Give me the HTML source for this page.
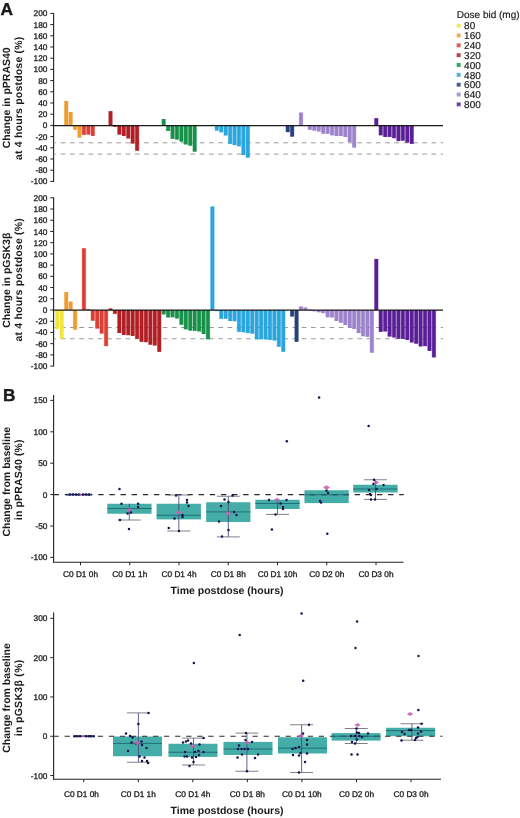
<!DOCTYPE html><html><head><meta charset="utf-8"><title>Figure</title><style>html,body{margin:0;padding:0;background:#fff;width:520px;height:818px;overflow:hidden}svg{display:block}</style></head><body><svg width="520" height="818" viewBox="0 0 520 818">
<style>
text{font-family:'Liberation Sans', Arial, Helvetica, sans-serif;fill:#1a1a1a;text-rendering:geometricPrecision}
.tk{font-size:8.3px;stroke:#1a1a1a;stroke-width:0.3px}
.ttl{font-size:10.5px;font-weight:bold}
.pl{font-size:17.3px;font-weight:bold;stroke:#1a1a1a;stroke-width:0.4px}
.lg{font-size:10px;fill:#222;stroke:#222;stroke-width:0.2px}
.lgl{font-size:10px;fill:#222;stroke:#222;stroke-width:0.2px}
.xl{font-size:8.3px;stroke:#1a1a1a;stroke-width:0.3px}
</style>
<rect width="520" height="818" fill="#fff"/>
<text x="0.6" y="14.8" class="pl">A</text>
<line x1="53.6" y1="12.9" x2="53.6" y2="181.9" stroke="#222" stroke-width="1.1"/>
<line x1="50.3" y1="181.4" x2="53.6" y2="181.4" stroke="#222" stroke-width="1"/>
<text x="47.4" y="184.45" text-anchor="end" class="tk">-100</text>
<line x1="50.3" y1="170.2" x2="53.6" y2="170.2" stroke="#222" stroke-width="1"/>
<text x="47.4" y="173.25" text-anchor="end" class="tk">-80</text>
<line x1="50.3" y1="159" x2="53.6" y2="159" stroke="#222" stroke-width="1"/>
<text x="47.4" y="162.05" text-anchor="end" class="tk">-60</text>
<line x1="50.3" y1="147.8" x2="53.6" y2="147.8" stroke="#222" stroke-width="1"/>
<text x="47.4" y="150.85" text-anchor="end" class="tk">-40</text>
<line x1="50.3" y1="136.6" x2="53.6" y2="136.6" stroke="#222" stroke-width="1"/>
<text x="47.4" y="139.65" text-anchor="end" class="tk">-20</text>
<line x1="50.3" y1="125.4" x2="53.6" y2="125.4" stroke="#222" stroke-width="1"/>
<text x="47.4" y="128.45" text-anchor="end" class="tk">0</text>
<line x1="50.3" y1="114.2" x2="53.6" y2="114.2" stroke="#222" stroke-width="1"/>
<text x="47.4" y="117.25" text-anchor="end" class="tk">20</text>
<line x1="50.3" y1="103" x2="53.6" y2="103" stroke="#222" stroke-width="1"/>
<text x="47.4" y="106.05" text-anchor="end" class="tk">40</text>
<line x1="50.3" y1="91.8" x2="53.6" y2="91.8" stroke="#222" stroke-width="1"/>
<text x="47.4" y="94.85" text-anchor="end" class="tk">60</text>
<line x1="50.3" y1="80.6" x2="53.6" y2="80.6" stroke="#222" stroke-width="1"/>
<text x="47.4" y="83.65" text-anchor="end" class="tk">80</text>
<line x1="50.3" y1="69.4" x2="53.6" y2="69.4" stroke="#222" stroke-width="1"/>
<text x="47.4" y="72.45" text-anchor="end" class="tk">100</text>
<line x1="50.3" y1="58.2" x2="53.6" y2="58.2" stroke="#222" stroke-width="1"/>
<text x="47.4" y="61.25" text-anchor="end" class="tk">120</text>
<line x1="50.3" y1="47" x2="53.6" y2="47" stroke="#222" stroke-width="1"/>
<text x="47.4" y="50.05" text-anchor="end" class="tk">140</text>
<line x1="50.3" y1="35.8" x2="53.6" y2="35.8" stroke="#222" stroke-width="1"/>
<text x="47.4" y="38.85" text-anchor="end" class="tk">160</text>
<line x1="50.3" y1="24.6" x2="53.6" y2="24.6" stroke="#222" stroke-width="1"/>
<text x="47.4" y="27.65" text-anchor="end" class="tk">180</text>
<line x1="50.3" y1="13.4" x2="53.6" y2="13.4" stroke="#222" stroke-width="1"/>
<text x="47.4" y="16.45" text-anchor="end" class="tk">200</text>
<line x1="54.6" y1="142.8" x2="443" y2="142.8" stroke="#9a9a9a" stroke-width="1" stroke-dasharray="4.7 4.57" stroke-dashoffset="3.17"/>
<line x1="54.6" y1="154.1" x2="443" y2="154.1" stroke="#9a9a9a" stroke-width="1" stroke-dasharray="4.7 4.57" stroke-dashoffset="3.17"/>
<rect x="63.96" y="100.93" width="4.5" height="24.47" fill="#EE9B30" opacity="0.4"/>
<rect x="68.39" y="112.07" width="4.5" height="13.33" fill="#EE9B30" opacity="0.4"/>
<rect x="72.82" y="125.4" width="4.5" height="4.37" fill="#EE9B30" opacity="0.4"/>
<rect x="77.25" y="125.4" width="4.5" height="12.15" fill="#EE9B30" opacity="0.4"/>
<rect x="81.68" y="125.4" width="4.5" height="9.41" fill="#DC3F36" opacity="0.4"/>
<rect x="86.11" y="125.4" width="4.5" height="9.13" fill="#DC3F36" opacity="0.4"/>
<rect x="90.54" y="125.4" width="4.5" height="10.53" fill="#DC3F36" opacity="0.4"/>
<rect x="108.26" y="111.18" width="4.5" height="14.22" fill="#B11F24" opacity="0.4"/>
<rect x="112.69" y="125.4" width="4.5" height="1.51" fill="#B11F24" opacity="0.4"/>
<rect x="117.12" y="125.4" width="4.5" height="9.13" fill="#B11F24" opacity="0.4"/>
<rect x="121.55" y="125.4" width="4.5" height="10.53" fill="#B11F24" opacity="0.4"/>
<rect x="125.98" y="125.4" width="4.5" height="13.05" fill="#B11F24" opacity="0.4"/>
<rect x="130.41" y="125.4" width="4.5" height="18.14" fill="#B11F24" opacity="0.4"/>
<rect x="134.84" y="125.4" width="4.5" height="25.31" fill="#B11F24" opacity="0.4"/>
<rect x="161.42" y="119.07" width="4.5" height="6.33" fill="#17904A" opacity="0.4"/>
<rect x="165.85" y="125.4" width="4.5" height="5.54" fill="#17904A" opacity="0.4"/>
<rect x="170.28" y="125.4" width="4.5" height="13.38" fill="#17904A" opacity="0.4"/>
<rect x="174.71" y="125.4" width="4.5" height="14.17" fill="#17904A" opacity="0.4"/>
<rect x="179.14" y="125.4" width="4.5" height="16.18" fill="#17904A" opacity="0.4"/>
<rect x="183.57" y="125.4" width="4.5" height="19.04" fill="#17904A" opacity="0.4"/>
<rect x="188" y="125.4" width="4.5" height="20.27" fill="#17904A" opacity="0.4"/>
<rect x="192.43" y="125.4" width="4.5" height="26.21" fill="#17904A" opacity="0.4"/>
<rect x="210.15" y="124.84" width="4.5" height="0.6" fill="#2BA5DE" opacity="0.4"/>
<rect x="214.58" y="125.4" width="4.5" height="5.21" fill="#2BA5DE" opacity="0.4"/>
<rect x="219.01" y="125.4" width="4.5" height="6.89" fill="#2BA5DE" opacity="0.4"/>
<rect x="223.44" y="125.4" width="4.5" height="10.02" fill="#2BA5DE" opacity="0.4"/>
<rect x="227.87" y="125.4" width="4.5" height="18.42" fill="#2BA5DE" opacity="0.4"/>
<rect x="232.3" y="125.4" width="4.5" height="19.66" fill="#2BA5DE" opacity="0.4"/>
<rect x="236.73" y="125.4" width="4.5" height="20.94" fill="#2BA5DE" opacity="0.4"/>
<rect x="241.16" y="125.4" width="4.5" height="29.68" fill="#2BA5DE" opacity="0.4"/>
<rect x="245.59" y="125.4" width="4.5" height="32.2" fill="#2BA5DE" opacity="0.4"/>
<rect x="285.46" y="125.4" width="4.5" height="6.72" fill="#26407E" opacity="0.4"/>
<rect x="289.89" y="125.4" width="4.5" height="11.2" fill="#26407E" opacity="0.4"/>
<rect x="298.75" y="112.52" width="4.5" height="12.88" fill="#9C83CB" opacity="0.4"/>
<rect x="303.18" y="125.4" width="4.5" height="0.6" fill="#9C83CB" opacity="0.4"/>
<rect x="307.61" y="125.4" width="4.5" height="4.37" fill="#9C83CB" opacity="0.4"/>
<rect x="312.04" y="125.4" width="4.5" height="5.21" fill="#9C83CB" opacity="0.4"/>
<rect x="316.47" y="125.4" width="4.5" height="6.1" fill="#9C83CB" opacity="0.4"/>
<rect x="320.9" y="125.4" width="4.5" height="8.4" fill="#9C83CB" opacity="0.4"/>
<rect x="325.33" y="125.4" width="4.5" height="8.4" fill="#9C83CB" opacity="0.4"/>
<rect x="329.76" y="125.4" width="4.5" height="9.91" fill="#9C83CB" opacity="0.4"/>
<rect x="334.19" y="125.4" width="4.5" height="10.64" fill="#9C83CB" opacity="0.4"/>
<rect x="338.62" y="125.4" width="4.5" height="10.64" fill="#9C83CB" opacity="0.4"/>
<rect x="343.05" y="125.4" width="4.5" height="11.54" fill="#9C83CB" opacity="0.4"/>
<rect x="347.48" y="125.4" width="4.5" height="16.58" fill="#9C83CB" opacity="0.4"/>
<rect x="351.91" y="125.4" width="4.5" height="22.18" fill="#9C83CB" opacity="0.4"/>
<rect x="374.06" y="118.23" width="4.5" height="7.17" fill="#5A1F96" opacity="0.4"/>
<rect x="378.49" y="125.4" width="4.5" height="9.91" fill="#5A1F96" opacity="0.4"/>
<rect x="382.92" y="125.4" width="4.5" height="11.54" fill="#5A1F96" opacity="0.4"/>
<rect x="387.35" y="125.4" width="4.5" height="11.54" fill="#5A1F96" opacity="0.4"/>
<rect x="391.78" y="125.4" width="4.5" height="12.77" fill="#5A1F96" opacity="0.4"/>
<rect x="396.21" y="125.4" width="4.5" height="15.68" fill="#5A1F96" opacity="0.4"/>
<rect x="400.64" y="125.4" width="4.5" height="15.23" fill="#5A1F96" opacity="0.4"/>
<rect x="405.07" y="125.4" width="4.5" height="17.14" fill="#5A1F96" opacity="0.4"/>
<rect x="409.5" y="125.4" width="4.5" height="18.42" fill="#5A1F96" opacity="0.4"/>
<rect x="64.46" y="100.93" width="3.5" height="24.47" fill="#EE9B30"/>
<rect x="68.89" y="112.07" width="3.5" height="13.33" fill="#EE9B30"/>
<rect x="73.32" y="125.4" width="3.5" height="4.37" fill="#EE9B30"/>
<rect x="77.75" y="125.4" width="3.5" height="12.15" fill="#EE9B30"/>
<rect x="82.18" y="125.4" width="3.5" height="9.41" fill="#DC3F36"/>
<rect x="86.61" y="125.4" width="3.5" height="9.13" fill="#DC3F36"/>
<rect x="91.04" y="125.4" width="3.5" height="10.53" fill="#DC3F36"/>
<rect x="108.76" y="111.18" width="3.5" height="14.22" fill="#B11F24"/>
<rect x="113.19" y="125.4" width="3.5" height="1.51" fill="#B11F24"/>
<rect x="117.62" y="125.4" width="3.5" height="9.13" fill="#B11F24"/>
<rect x="122.05" y="125.4" width="3.5" height="10.53" fill="#B11F24"/>
<rect x="126.48" y="125.4" width="3.5" height="13.05" fill="#B11F24"/>
<rect x="130.91" y="125.4" width="3.5" height="18.14" fill="#B11F24"/>
<rect x="135.34" y="125.4" width="3.5" height="25.31" fill="#B11F24"/>
<rect x="161.92" y="119.07" width="3.5" height="6.33" fill="#17904A"/>
<rect x="166.35" y="125.4" width="3.5" height="5.54" fill="#17904A"/>
<rect x="170.78" y="125.4" width="3.5" height="13.38" fill="#17904A"/>
<rect x="175.21" y="125.4" width="3.5" height="14.17" fill="#17904A"/>
<rect x="179.64" y="125.4" width="3.5" height="16.18" fill="#17904A"/>
<rect x="184.07" y="125.4" width="3.5" height="19.04" fill="#17904A"/>
<rect x="188.5" y="125.4" width="3.5" height="20.27" fill="#17904A"/>
<rect x="192.93" y="125.4" width="3.5" height="26.21" fill="#17904A"/>
<rect x="210.65" y="124.84" width="3.5" height="0.6" fill="#2BA5DE"/>
<rect x="215.08" y="125.4" width="3.5" height="5.21" fill="#2BA5DE"/>
<rect x="219.51" y="125.4" width="3.5" height="6.89" fill="#2BA5DE"/>
<rect x="223.94" y="125.4" width="3.5" height="10.02" fill="#2BA5DE"/>
<rect x="228.37" y="125.4" width="3.5" height="18.42" fill="#2BA5DE"/>
<rect x="232.8" y="125.4" width="3.5" height="19.66" fill="#2BA5DE"/>
<rect x="237.23" y="125.4" width="3.5" height="20.94" fill="#2BA5DE"/>
<rect x="241.66" y="125.4" width="3.5" height="29.68" fill="#2BA5DE"/>
<rect x="246.09" y="125.4" width="3.5" height="32.2" fill="#2BA5DE"/>
<rect x="285.96" y="125.4" width="3.5" height="6.72" fill="#26407E"/>
<rect x="290.39" y="125.4" width="3.5" height="11.2" fill="#26407E"/>
<rect x="299.25" y="112.52" width="3.5" height="12.88" fill="#9C83CB"/>
<rect x="303.68" y="125.4" width="3.5" height="0.6" fill="#9C83CB"/>
<rect x="308.11" y="125.4" width="3.5" height="4.37" fill="#9C83CB"/>
<rect x="312.54" y="125.4" width="3.5" height="5.21" fill="#9C83CB"/>
<rect x="316.97" y="125.4" width="3.5" height="6.1" fill="#9C83CB"/>
<rect x="321.4" y="125.4" width="3.5" height="8.4" fill="#9C83CB"/>
<rect x="325.83" y="125.4" width="3.5" height="8.4" fill="#9C83CB"/>
<rect x="330.26" y="125.4" width="3.5" height="9.91" fill="#9C83CB"/>
<rect x="334.69" y="125.4" width="3.5" height="10.64" fill="#9C83CB"/>
<rect x="339.12" y="125.4" width="3.5" height="10.64" fill="#9C83CB"/>
<rect x="343.55" y="125.4" width="3.5" height="11.54" fill="#9C83CB"/>
<rect x="347.98" y="125.4" width="3.5" height="16.58" fill="#9C83CB"/>
<rect x="352.41" y="125.4" width="3.5" height="22.18" fill="#9C83CB"/>
<rect x="374.56" y="118.23" width="3.5" height="7.17" fill="#5A1F96"/>
<rect x="378.99" y="125.4" width="3.5" height="9.91" fill="#5A1F96"/>
<rect x="383.42" y="125.4" width="3.5" height="11.54" fill="#5A1F96"/>
<rect x="387.85" y="125.4" width="3.5" height="11.54" fill="#5A1F96"/>
<rect x="392.28" y="125.4" width="3.5" height="12.77" fill="#5A1F96"/>
<rect x="396.71" y="125.4" width="3.5" height="15.68" fill="#5A1F96"/>
<rect x="401.14" y="125.4" width="3.5" height="15.23" fill="#5A1F96"/>
<rect x="405.57" y="125.4" width="3.5" height="17.14" fill="#5A1F96"/>
<rect x="410" y="125.4" width="3.5" height="18.42" fill="#5A1F96"/>
<line x1="53.6" y1="125.6" x2="443" y2="125.6" stroke="#1a1a1a" stroke-width="1.45"/>
<line x1="53.6" y1="197.3" x2="53.6" y2="366.6" stroke="#222" stroke-width="1.1"/>
<line x1="50.3" y1="366.1" x2="53.6" y2="366.1" stroke="#222" stroke-width="1"/>
<text x="47.4" y="369.15" text-anchor="end" class="tk">-100</text>
<line x1="50.3" y1="354.88" x2="53.6" y2="354.88" stroke="#222" stroke-width="1"/>
<text x="47.4" y="357.93" text-anchor="end" class="tk">-80</text>
<line x1="50.3" y1="343.66" x2="53.6" y2="343.66" stroke="#222" stroke-width="1"/>
<text x="47.4" y="346.71" text-anchor="end" class="tk">-60</text>
<line x1="50.3" y1="332.44" x2="53.6" y2="332.44" stroke="#222" stroke-width="1"/>
<text x="47.4" y="335.49" text-anchor="end" class="tk">-40</text>
<line x1="50.3" y1="321.22" x2="53.6" y2="321.22" stroke="#222" stroke-width="1"/>
<text x="47.4" y="324.27" text-anchor="end" class="tk">-20</text>
<line x1="50.3" y1="310" x2="53.6" y2="310" stroke="#222" stroke-width="1"/>
<text x="47.4" y="313.05" text-anchor="end" class="tk">0</text>
<line x1="50.3" y1="298.78" x2="53.6" y2="298.78" stroke="#222" stroke-width="1"/>
<text x="47.4" y="301.83" text-anchor="end" class="tk">20</text>
<line x1="50.3" y1="287.56" x2="53.6" y2="287.56" stroke="#222" stroke-width="1"/>
<text x="47.4" y="290.61" text-anchor="end" class="tk">40</text>
<line x1="50.3" y1="276.34" x2="53.6" y2="276.34" stroke="#222" stroke-width="1"/>
<text x="47.4" y="279.39" text-anchor="end" class="tk">60</text>
<line x1="50.3" y1="265.12" x2="53.6" y2="265.12" stroke="#222" stroke-width="1"/>
<text x="47.4" y="268.17" text-anchor="end" class="tk">80</text>
<line x1="50.3" y1="253.9" x2="53.6" y2="253.9" stroke="#222" stroke-width="1"/>
<text x="47.4" y="256.95" text-anchor="end" class="tk">100</text>
<line x1="50.3" y1="242.68" x2="53.6" y2="242.68" stroke="#222" stroke-width="1"/>
<text x="47.4" y="245.73" text-anchor="end" class="tk">120</text>
<line x1="50.3" y1="231.46" x2="53.6" y2="231.46" stroke="#222" stroke-width="1"/>
<text x="47.4" y="234.51" text-anchor="end" class="tk">140</text>
<line x1="50.3" y1="220.24" x2="53.6" y2="220.24" stroke="#222" stroke-width="1"/>
<text x="47.4" y="223.29" text-anchor="end" class="tk">160</text>
<line x1="50.3" y1="209.02" x2="53.6" y2="209.02" stroke="#222" stroke-width="1"/>
<text x="47.4" y="212.07" text-anchor="end" class="tk">180</text>
<line x1="50.3" y1="197.8" x2="53.6" y2="197.8" stroke="#222" stroke-width="1"/>
<text x="47.4" y="200.85" text-anchor="end" class="tk">200</text>
<line x1="54.6" y1="327.5" x2="443" y2="327.5" stroke="#9a9a9a" stroke-width="1" stroke-dasharray="4.7 4.57" stroke-dashoffset="3.17"/>
<line x1="54.6" y1="338.75" x2="443" y2="338.75" stroke="#9a9a9a" stroke-width="1" stroke-dasharray="4.7 4.57" stroke-dashoffset="3.17"/>
<rect x="55.1" y="310" width="4.5" height="19.07" fill="#F2E63A" opacity="0.4"/>
<rect x="59.53" y="310" width="4.5" height="28.61" fill="#F2E63A" opacity="0.4"/>
<rect x="63.96" y="292.05" width="4.5" height="17.95" fill="#EE9B30" opacity="0.4"/>
<rect x="68.39" y="301.58" width="4.5" height="8.42" fill="#EE9B30" opacity="0.4"/>
<rect x="72.82" y="310" width="4.5" height="19.64" fill="#EE9B30" opacity="0.4"/>
<rect x="81.68" y="248.29" width="4.5" height="61.71" fill="#DC3F36" opacity="0.4"/>
<rect x="86.11" y="309.16" width="4.5" height="0.84" fill="#DC3F36" opacity="0.4"/>
<rect x="90.54" y="310" width="4.5" height="10.66" fill="#DC3F36" opacity="0.4"/>
<rect x="94.97" y="310" width="4.5" height="18.51" fill="#DC3F36" opacity="0.4"/>
<rect x="99.4" y="310" width="4.5" height="23.56" fill="#DC3F36" opacity="0.4"/>
<rect x="103.83" y="310" width="4.5" height="36.13" fill="#DC3F36" opacity="0.4"/>
<rect x="108.26" y="308.49" width="4.5" height="1.51" fill="#B11F24" opacity="0.4"/>
<rect x="112.69" y="310" width="4.5" height="3.76" fill="#B11F24" opacity="0.4"/>
<rect x="117.12" y="310" width="4.5" height="23" fill="#B11F24" opacity="0.4"/>
<rect x="121.55" y="310" width="4.5" height="24.91" fill="#B11F24" opacity="0.4"/>
<rect x="125.98" y="310" width="4.5" height="25.19" fill="#B11F24" opacity="0.4"/>
<rect x="130.41" y="310" width="4.5" height="25.92" fill="#B11F24" opacity="0.4"/>
<rect x="134.84" y="310" width="4.5" height="28.67" fill="#B11F24" opacity="0.4"/>
<rect x="139.27" y="310" width="4.5" height="31.81" fill="#B11F24" opacity="0.4"/>
<rect x="143.7" y="310" width="4.5" height="32.15" fill="#B11F24" opacity="0.4"/>
<rect x="148.13" y="310" width="4.5" height="34.67" fill="#B11F24" opacity="0.4"/>
<rect x="152.56" y="310" width="4.5" height="35.51" fill="#B11F24" opacity="0.4"/>
<rect x="156.99" y="310" width="4.5" height="41.79" fill="#B11F24" opacity="0.4"/>
<rect x="161.42" y="310" width="4.5" height="4.38" fill="#17904A" opacity="0.4"/>
<rect x="165.85" y="310" width="4.5" height="7.46" fill="#17904A" opacity="0.4"/>
<rect x="170.28" y="310" width="4.5" height="7.24" fill="#17904A" opacity="0.4"/>
<rect x="174.71" y="310" width="4.5" height="8.47" fill="#17904A" opacity="0.4"/>
<rect x="179.14" y="310" width="4.5" height="14.7" fill="#17904A" opacity="0.4"/>
<rect x="183.57" y="310" width="4.5" height="19.3" fill="#17904A" opacity="0.4"/>
<rect x="188" y="310" width="4.5" height="20.59" fill="#17904A" opacity="0.4"/>
<rect x="192.43" y="310" width="4.5" height="20.81" fill="#17904A" opacity="0.4"/>
<rect x="196.86" y="310" width="4.5" height="21.43" fill="#17904A" opacity="0.4"/>
<rect x="201.29" y="310" width="4.5" height="23.95" fill="#17904A" opacity="0.4"/>
<rect x="205.72" y="310" width="4.5" height="29.28" fill="#17904A" opacity="0.4"/>
<rect x="210.15" y="206.5" width="4.5" height="103.5" fill="#2BA5DE" opacity="0.4"/>
<rect x="214.58" y="310" width="4.5" height="1.12" fill="#2BA5DE" opacity="0.4"/>
<rect x="219.01" y="310" width="4.5" height="8.75" fill="#2BA5DE" opacity="0.4"/>
<rect x="223.44" y="310" width="4.5" height="8.75" fill="#2BA5DE" opacity="0.4"/>
<rect x="227.87" y="310" width="4.5" height="11" fill="#2BA5DE" opacity="0.4"/>
<rect x="232.3" y="310" width="4.5" height="11.22" fill="#2BA5DE" opacity="0.4"/>
<rect x="236.73" y="310" width="4.5" height="21.82" fill="#2BA5DE" opacity="0.4"/>
<rect x="241.16" y="310" width="4.5" height="22.22" fill="#2BA5DE" opacity="0.4"/>
<rect x="245.59" y="310" width="4.5" height="23.06" fill="#2BA5DE" opacity="0.4"/>
<rect x="250.02" y="310" width="4.5" height="23.67" fill="#2BA5DE" opacity="0.4"/>
<rect x="254.45" y="310" width="4.5" height="29.28" fill="#2BA5DE" opacity="0.4"/>
<rect x="258.88" y="310" width="4.5" height="29.28" fill="#2BA5DE" opacity="0.4"/>
<rect x="263.31" y="310" width="4.5" height="29.28" fill="#2BA5DE" opacity="0.4"/>
<rect x="267.74" y="310" width="4.5" height="29.9" fill="#2BA5DE" opacity="0.4"/>
<rect x="272.17" y="310" width="4.5" height="30.52" fill="#2BA5DE" opacity="0.4"/>
<rect x="276.6" y="310" width="4.5" height="36.8" fill="#2BA5DE" opacity="0.4"/>
<rect x="281.03" y="310" width="4.5" height="41.79" fill="#2BA5DE" opacity="0.4"/>
<rect x="289.89" y="310" width="4.5" height="6.51" fill="#26407E" opacity="0.4"/>
<rect x="294.32" y="310" width="4.5" height="31.81" fill="#26407E" opacity="0.4"/>
<rect x="298.75" y="306.52" width="4.5" height="3.48" fill="#9C83CB" opacity="0.4"/>
<rect x="303.18" y="307.53" width="4.5" height="2.47" fill="#9C83CB" opacity="0.4"/>
<rect x="307.61" y="309.55" width="4.5" height="0.6" fill="#9C83CB" opacity="0.4"/>
<rect x="312.04" y="310" width="4.5" height="1.23" fill="#9C83CB" opacity="0.4"/>
<rect x="316.47" y="310" width="4.5" height="2.24" fill="#9C83CB" opacity="0.4"/>
<rect x="320.9" y="310" width="4.5" height="3.14" fill="#9C83CB" opacity="0.4"/>
<rect x="325.33" y="310" width="4.5" height="7.24" fill="#9C83CB" opacity="0.4"/>
<rect x="329.76" y="310" width="4.5" height="7.46" fill="#9C83CB" opacity="0.4"/>
<rect x="334.19" y="310" width="4.5" height="11" fill="#9C83CB" opacity="0.4"/>
<rect x="338.62" y="310" width="4.5" height="12.73" fill="#9C83CB" opacity="0.4"/>
<rect x="343.05" y="310" width="4.5" height="14.98" fill="#9C83CB" opacity="0.4"/>
<rect x="347.48" y="310" width="4.5" height="17.73" fill="#9C83CB" opacity="0.4"/>
<rect x="351.91" y="310" width="4.5" height="18.96" fill="#9C83CB" opacity="0.4"/>
<rect x="356.34" y="310" width="4.5" height="23.06" fill="#9C83CB" opacity="0.4"/>
<rect x="360.77" y="310" width="4.5" height="26.2" fill="#9C83CB" opacity="0.4"/>
<rect x="365.2" y="310" width="4.5" height="26.82" fill="#9C83CB" opacity="0.4"/>
<rect x="369.63" y="310" width="4.5" height="42.64" fill="#9C83CB" opacity="0.4"/>
<rect x="374.06" y="258.95" width="4.5" height="51.05" fill="#5A1F96" opacity="0.4"/>
<rect x="378.49" y="310" width="4.5" height="21.82" fill="#5A1F96" opacity="0.4"/>
<rect x="382.92" y="310" width="4.5" height="21.43" fill="#5A1F96" opacity="0.4"/>
<rect x="387.35" y="310" width="4.5" height="26.54" fill="#5A1F96" opacity="0.4"/>
<rect x="391.78" y="310" width="4.5" height="27.43" fill="#5A1F96" opacity="0.4"/>
<rect x="396.21" y="310" width="4.5" height="28.67" fill="#5A1F96" opacity="0.4"/>
<rect x="400.64" y="310" width="4.5" height="28.95" fill="#5A1F96" opacity="0.4"/>
<rect x="405.07" y="310" width="4.5" height="29.9" fill="#5A1F96" opacity="0.4"/>
<rect x="409.5" y="310" width="4.5" height="32.43" fill="#5A1F96" opacity="0.4"/>
<rect x="413.93" y="310" width="4.5" height="33.66" fill="#5A1F96" opacity="0.4"/>
<rect x="418.36" y="310" width="4.5" height="36.41" fill="#5A1F96" opacity="0.4"/>
<rect x="422.79" y="310" width="4.5" height="36.13" fill="#5A1F96" opacity="0.4"/>
<rect x="427.22" y="310" width="4.5" height="40.9" fill="#5A1F96" opacity="0.4"/>
<rect x="431.65" y="310" width="4.5" height="47.35" fill="#5A1F96" opacity="0.4"/>
<rect x="55.6" y="310" width="3.5" height="19.07" fill="#F2E63A"/>
<rect x="60.03" y="310" width="3.5" height="28.61" fill="#F2E63A"/>
<rect x="64.46" y="292.05" width="3.5" height="17.95" fill="#EE9B30"/>
<rect x="68.89" y="301.58" width="3.5" height="8.42" fill="#EE9B30"/>
<rect x="73.32" y="310" width="3.5" height="19.64" fill="#EE9B30"/>
<rect x="82.18" y="248.29" width="3.5" height="61.71" fill="#DC3F36"/>
<rect x="86.61" y="309.16" width="3.5" height="0.84" fill="#DC3F36"/>
<rect x="91.04" y="310" width="3.5" height="10.66" fill="#DC3F36"/>
<rect x="95.47" y="310" width="3.5" height="18.51" fill="#DC3F36"/>
<rect x="99.9" y="310" width="3.5" height="23.56" fill="#DC3F36"/>
<rect x="104.33" y="310" width="3.5" height="36.13" fill="#DC3F36"/>
<rect x="108.76" y="308.49" width="3.5" height="1.51" fill="#B11F24"/>
<rect x="113.19" y="310" width="3.5" height="3.76" fill="#B11F24"/>
<rect x="117.62" y="310" width="3.5" height="23" fill="#B11F24"/>
<rect x="122.05" y="310" width="3.5" height="24.91" fill="#B11F24"/>
<rect x="126.48" y="310" width="3.5" height="25.19" fill="#B11F24"/>
<rect x="130.91" y="310" width="3.5" height="25.92" fill="#B11F24"/>
<rect x="135.34" y="310" width="3.5" height="28.67" fill="#B11F24"/>
<rect x="139.77" y="310" width="3.5" height="31.81" fill="#B11F24"/>
<rect x="144.2" y="310" width="3.5" height="32.15" fill="#B11F24"/>
<rect x="148.63" y="310" width="3.5" height="34.67" fill="#B11F24"/>
<rect x="153.06" y="310" width="3.5" height="35.51" fill="#B11F24"/>
<rect x="157.49" y="310" width="3.5" height="41.79" fill="#B11F24"/>
<rect x="161.92" y="310" width="3.5" height="4.38" fill="#17904A"/>
<rect x="166.35" y="310" width="3.5" height="7.46" fill="#17904A"/>
<rect x="170.78" y="310" width="3.5" height="7.24" fill="#17904A"/>
<rect x="175.21" y="310" width="3.5" height="8.47" fill="#17904A"/>
<rect x="179.64" y="310" width="3.5" height="14.7" fill="#17904A"/>
<rect x="184.07" y="310" width="3.5" height="19.3" fill="#17904A"/>
<rect x="188.5" y="310" width="3.5" height="20.59" fill="#17904A"/>
<rect x="192.93" y="310" width="3.5" height="20.81" fill="#17904A"/>
<rect x="197.36" y="310" width="3.5" height="21.43" fill="#17904A"/>
<rect x="201.79" y="310" width="3.5" height="23.95" fill="#17904A"/>
<rect x="206.22" y="310" width="3.5" height="29.28" fill="#17904A"/>
<rect x="210.65" y="206.5" width="3.5" height="103.5" fill="#2BA5DE"/>
<rect x="215.08" y="310" width="3.5" height="1.12" fill="#2BA5DE"/>
<rect x="219.51" y="310" width="3.5" height="8.75" fill="#2BA5DE"/>
<rect x="223.94" y="310" width="3.5" height="8.75" fill="#2BA5DE"/>
<rect x="228.37" y="310" width="3.5" height="11" fill="#2BA5DE"/>
<rect x="232.8" y="310" width="3.5" height="11.22" fill="#2BA5DE"/>
<rect x="237.23" y="310" width="3.5" height="21.82" fill="#2BA5DE"/>
<rect x="241.66" y="310" width="3.5" height="22.22" fill="#2BA5DE"/>
<rect x="246.09" y="310" width="3.5" height="23.06" fill="#2BA5DE"/>
<rect x="250.52" y="310" width="3.5" height="23.67" fill="#2BA5DE"/>
<rect x="254.95" y="310" width="3.5" height="29.28" fill="#2BA5DE"/>
<rect x="259.38" y="310" width="3.5" height="29.28" fill="#2BA5DE"/>
<rect x="263.81" y="310" width="3.5" height="29.28" fill="#2BA5DE"/>
<rect x="268.24" y="310" width="3.5" height="29.9" fill="#2BA5DE"/>
<rect x="272.67" y="310" width="3.5" height="30.52" fill="#2BA5DE"/>
<rect x="277.1" y="310" width="3.5" height="36.8" fill="#2BA5DE"/>
<rect x="281.53" y="310" width="3.5" height="41.79" fill="#2BA5DE"/>
<rect x="290.39" y="310" width="3.5" height="6.51" fill="#26407E"/>
<rect x="294.82" y="310" width="3.5" height="31.81" fill="#26407E"/>
<rect x="299.25" y="306.52" width="3.5" height="3.48" fill="#9C83CB"/>
<rect x="303.68" y="307.53" width="3.5" height="2.47" fill="#9C83CB"/>
<rect x="308.11" y="309.55" width="3.5" height="0.6" fill="#9C83CB"/>
<rect x="312.54" y="310" width="3.5" height="1.23" fill="#9C83CB"/>
<rect x="316.97" y="310" width="3.5" height="2.24" fill="#9C83CB"/>
<rect x="321.4" y="310" width="3.5" height="3.14" fill="#9C83CB"/>
<rect x="325.83" y="310" width="3.5" height="7.24" fill="#9C83CB"/>
<rect x="330.26" y="310" width="3.5" height="7.46" fill="#9C83CB"/>
<rect x="334.69" y="310" width="3.5" height="11" fill="#9C83CB"/>
<rect x="339.12" y="310" width="3.5" height="12.73" fill="#9C83CB"/>
<rect x="343.55" y="310" width="3.5" height="14.98" fill="#9C83CB"/>
<rect x="347.98" y="310" width="3.5" height="17.73" fill="#9C83CB"/>
<rect x="352.41" y="310" width="3.5" height="18.96" fill="#9C83CB"/>
<rect x="356.84" y="310" width="3.5" height="23.06" fill="#9C83CB"/>
<rect x="361.27" y="310" width="3.5" height="26.2" fill="#9C83CB"/>
<rect x="365.7" y="310" width="3.5" height="26.82" fill="#9C83CB"/>
<rect x="370.13" y="310" width="3.5" height="42.64" fill="#9C83CB"/>
<rect x="374.56" y="258.95" width="3.5" height="51.05" fill="#5A1F96"/>
<rect x="378.99" y="310" width="3.5" height="21.82" fill="#5A1F96"/>
<rect x="383.42" y="310" width="3.5" height="21.43" fill="#5A1F96"/>
<rect x="387.85" y="310" width="3.5" height="26.54" fill="#5A1F96"/>
<rect x="392.28" y="310" width="3.5" height="27.43" fill="#5A1F96"/>
<rect x="396.71" y="310" width="3.5" height="28.67" fill="#5A1F96"/>
<rect x="401.14" y="310" width="3.5" height="28.95" fill="#5A1F96"/>
<rect x="405.57" y="310" width="3.5" height="29.9" fill="#5A1F96"/>
<rect x="410" y="310" width="3.5" height="32.43" fill="#5A1F96"/>
<rect x="414.43" y="310" width="3.5" height="33.66" fill="#5A1F96"/>
<rect x="418.86" y="310" width="3.5" height="36.41" fill="#5A1F96"/>
<rect x="423.29" y="310" width="3.5" height="36.13" fill="#5A1F96"/>
<rect x="427.72" y="310" width="3.5" height="40.9" fill="#5A1F96"/>
<rect x="432.15" y="310" width="3.5" height="47.35" fill="#5A1F96"/>
<line x1="53.6" y1="310.1" x2="443" y2="310.1" stroke="#1a1a1a" stroke-width="1.45"/>
<text transform="translate(10.2,97.8) rotate(-90)" text-anchor="middle" class="ttl">Change in pPRAS40</text>
<text transform="translate(22.4,98.3) rotate(-90)" text-anchor="middle" class="ttl" letter-spacing="0.2">at 4 hours postdose (%)</text>
<text transform="translate(10.2,280.2) rotate(-90)" text-anchor="middle" class="ttl">Change in pGSK3β</text>
<text transform="translate(22.4,279.8) rotate(-90)" text-anchor="middle" class="ttl" letter-spacing="0.2">at 4 hours postdose (%)</text>
<text x="456.8" y="17.8" class="lg">Dose bid (mg)</text>
<rect x="456.7" y="23.7" width="3.9" height="3.9" fill="#F2E63A" opacity="0.85"/>
<text x="464.1" y="29.35" class="lgl">80</text>
<rect x="456.7" y="33.54" width="3.9" height="3.9" fill="#EE9B30" opacity="0.85"/>
<text x="464.1" y="39.19" class="lgl">160</text>
<rect x="456.7" y="43.38" width="3.9" height="3.9" fill="#DC3F36" opacity="0.85"/>
<text x="464.1" y="49.03" class="lgl">240</text>
<rect x="456.7" y="53.22" width="3.9" height="3.9" fill="#B11F24" opacity="0.85"/>
<text x="464.1" y="58.87" class="lgl">320</text>
<rect x="456.7" y="63.06" width="3.9" height="3.9" fill="#17904A" opacity="0.85"/>
<text x="464.1" y="68.71" class="lgl">400</text>
<rect x="456.7" y="72.9" width="3.9" height="3.9" fill="#2BA5DE" opacity="0.85"/>
<text x="464.1" y="78.55" class="lgl">480</text>
<rect x="456.7" y="82.74" width="3.9" height="3.9" fill="#26407E" opacity="0.85"/>
<text x="464.1" y="88.39" class="lgl">600</text>
<rect x="456.7" y="92.58" width="3.9" height="3.9" fill="#9C83CB" opacity="0.85"/>
<text x="464.1" y="98.23" class="lgl">640</text>
<rect x="456.7" y="102.42" width="3.9" height="3.9" fill="#5A1F96" opacity="0.85"/>
<text x="464.1" y="108.07" class="lgl">800</text>
<text x="3.0" y="401.3" class="pl">B</text>
<line x1="53.6" y1="395" x2="53.6" y2="562.3" stroke="#222" stroke-width="1.1"/>
<line x1="53.050000000000004" y1="562.3" x2="403.5" y2="562.3" stroke="#222" stroke-width="1.1"/>
<line x1="50.3" y1="557.4" x2="53.6" y2="557.4" stroke="#222" stroke-width="1"/>
<text x="47.4" y="560.45" text-anchor="end" class="tk">-100</text>
<line x1="50.3" y1="526" x2="53.6" y2="526" stroke="#222" stroke-width="1"/>
<text x="47.4" y="529.05" text-anchor="end" class="tk">-50</text>
<line x1="50.3" y1="494.6" x2="53.6" y2="494.6" stroke="#222" stroke-width="1"/>
<text x="47.4" y="497.65" text-anchor="end" class="tk">0</text>
<line x1="50.3" y1="463.2" x2="53.6" y2="463.2" stroke="#222" stroke-width="1"/>
<text x="47.4" y="466.25" text-anchor="end" class="tk">50</text>
<line x1="50.3" y1="431.8" x2="53.6" y2="431.8" stroke="#222" stroke-width="1"/>
<text x="47.4" y="434.85" text-anchor="end" class="tk">100</text>
<line x1="50.3" y1="400.4" x2="53.6" y2="400.4" stroke="#222" stroke-width="1"/>
<text x="47.4" y="403.45" text-anchor="end" class="tk">150</text>
<line x1="80.5" y1="562.3" x2="80.5" y2="565.3" stroke="#222" stroke-width="1"/>
<text x="80.5" y="576.6" text-anchor="middle" class="xl">C0 D1 0h</text>
<line x1="129.75" y1="562.3" x2="129.75" y2="565.3" stroke="#222" stroke-width="1"/>
<text x="129.75" y="576.6" text-anchor="middle" class="xl">C0 D1 1h</text>
<line x1="179" y1="562.3" x2="179" y2="565.3" stroke="#222" stroke-width="1"/>
<text x="179" y="576.6" text-anchor="middle" class="xl">C0 D1 4h</text>
<line x1="228.25" y1="562.3" x2="228.25" y2="565.3" stroke="#222" stroke-width="1"/>
<text x="228.25" y="576.6" text-anchor="middle" class="xl">C0 D1 8h</text>
<line x1="277.5" y1="562.3" x2="277.5" y2="565.3" stroke="#222" stroke-width="1"/>
<text x="277.5" y="576.6" text-anchor="middle" class="xl">C0 D1 10h</text>
<line x1="326.75" y1="562.3" x2="326.75" y2="565.3" stroke="#222" stroke-width="1"/>
<text x="326.75" y="576.6" text-anchor="middle" class="xl">C0 D2 0h</text>
<line x1="376" y1="562.3" x2="376" y2="565.3" stroke="#222" stroke-width="1"/>
<text x="376" y="576.6" text-anchor="middle" class="xl">C0 D3 0h</text>
<text x="170.5" y="594.1" class="ttl">Time postdose (hours)</text>
<rect x="107.25" y="503.75" width="44.3" height="10" fill="#45ADA8"/>
<rect x="156.6" y="503.75" width="44.3" height="15.65" fill="#45ADA8"/>
<rect x="206.15" y="502.25" width="44.3" height="19.75" fill="#45ADA8"/>
<rect x="255.35" y="499.75" width="44.3" height="9.25" fill="#45ADA8"/>
<rect x="304.45" y="490.25" width="44.3" height="12.85" fill="#45ADA8"/>
<rect x="353.25" y="484.75" width="44.3" height="7.75" fill="#45ADA8"/>
<line x1="53.6" y1="494.6" x2="403.8" y2="494.6" stroke="#2a2a2a" stroke-width="1.2" stroke-dasharray="5.4 5.75"/>
<line x1="66" y1="494.6" x2="92" y2="494.6" stroke="#2a2a6a" stroke-width="1.6"/>
<circle cx="70" cy="494.6" r="1.25" fill="#15164F"/>
<circle cx="73" cy="494.6" r="1.25" fill="#15164F"/>
<circle cx="76" cy="494.6" r="1.25" fill="#15164F"/>
<circle cx="79" cy="494.6" r="1.25" fill="#15164F"/>
<circle cx="83" cy="494.6" r="1.25" fill="#15164F"/>
<circle cx="86" cy="494.6" r="1.25" fill="#15164F"/>
<circle cx="89" cy="494.6" r="1.25" fill="#15164F"/>
<path d="M80.6 493.63L82.4 494.8L80.6 495.97L78.8 494.8Z" fill="#C663B5" opacity="0.9"/>
<line x1="107.25" y1="508.5" x2="151.55" y2="508.5" stroke="#1F6F78" stroke-width="1"/>
<line x1="129.3" y1="503.75" x2="129.3" y2="520" stroke="#46467e" stroke-width="0.85"/>
<line x1="117.8" y1="520" x2="140.8" y2="520" stroke="#6a6a78" stroke-width="0.85"/>
<circle cx="119.5" cy="489.1" r="1.25" fill="#15164F"/>
<circle cx="121.5" cy="503.75" r="1.25" fill="#15164F"/>
<circle cx="138.1" cy="503.75" r="1.25" fill="#15164F"/>
<circle cx="138.1" cy="507" r="1.25" fill="#15164F"/>
<circle cx="127.5" cy="513.5" r="1.25" fill="#15164F"/>
<circle cx="131" cy="512.5" r="1.25" fill="#15164F"/>
<circle cx="120" cy="520" r="1.25" fill="#15164F"/>
<circle cx="129" cy="529" r="1.25" fill="#15164F"/>
<path d="M129.4 507.92L132.6 510L129.4 512.08L126.2 510Z" fill="#C663B5" opacity="0.9"/>
<line x1="156.6" y1="515.25" x2="200.9" y2="515.25" stroke="#1F6F78" stroke-width="1"/>
<line x1="178.8" y1="495" x2="178.8" y2="531" stroke="#46467e" stroke-width="0.85"/>
<line x1="167.3" y1="495" x2="190.3" y2="495" stroke="#6a6a78" stroke-width="0.85"/>
<line x1="167.3" y1="531" x2="190.3" y2="531" stroke="#6a6a78" stroke-width="0.85"/>
<circle cx="176" cy="495.5" r="1.25" fill="#15164F"/>
<circle cx="187" cy="500" r="1.25" fill="#15164F"/>
<circle cx="187" cy="502.5" r="1.25" fill="#15164F"/>
<circle cx="188.5" cy="506" r="1.25" fill="#15164F"/>
<circle cx="182.5" cy="515" r="1.25" fill="#15164F"/>
<circle cx="182.5" cy="517" r="1.25" fill="#15164F"/>
<circle cx="174.5" cy="518.5" r="1.25" fill="#15164F"/>
<circle cx="168.75" cy="528" r="1.25" fill="#15164F"/>
<circle cx="179" cy="531" r="1.25" fill="#15164F"/>
<path d="M178.5 510.42L181.7 512.5L178.5 514.58L175.3 512.5Z" fill="#C663B5" opacity="0.9"/>
<line x1="206.15" y1="511.9" x2="250.45" y2="511.9" stroke="#1F6F78" stroke-width="1"/>
<line x1="228.3" y1="496.25" x2="228.3" y2="536.9" stroke="#46467e" stroke-width="0.85"/>
<line x1="216.8" y1="496.25" x2="239.8" y2="496.25" stroke="#6a6a78" stroke-width="0.85"/>
<line x1="216.8" y1="536.9" x2="239.8" y2="536.9" stroke="#6a6a78" stroke-width="0.85"/>
<circle cx="224.5" cy="499.4" r="1.25" fill="#15164F"/>
<circle cx="232.5" cy="495.5" r="1.25" fill="#15164F"/>
<circle cx="228.5" cy="502" r="1.25" fill="#15164F"/>
<circle cx="221" cy="506" r="1.25" fill="#15164F"/>
<circle cx="234" cy="512" r="1.25" fill="#15164F"/>
<circle cx="236.5" cy="515" r="1.25" fill="#15164F"/>
<circle cx="219" cy="521.4" r="1.25" fill="#15164F"/>
<circle cx="228.5" cy="530" r="1.25" fill="#15164F"/>
<circle cx="222" cy="536.5" r="1.25" fill="#15164F"/>
<path d="M228 511.42L231.2 513.5L228 515.58L224.8 513.5Z" fill="#C663B5" opacity="0.9"/>
<line x1="255.35" y1="503.5" x2="299.65" y2="503.5" stroke="#1F6F78" stroke-width="1"/>
<line x1="277.5" y1="499.75" x2="277.5" y2="514.4" stroke="#46467e" stroke-width="0.85"/>
<line x1="266" y1="514.4" x2="289" y2="514.4" stroke="#6a6a78" stroke-width="0.85"/>
<circle cx="269" cy="500" r="1.25" fill="#15164F"/>
<circle cx="286.5" cy="500" r="1.25" fill="#15164F"/>
<circle cx="280.5" cy="503.5" r="1.25" fill="#15164F"/>
<circle cx="283" cy="507" r="1.25" fill="#15164F"/>
<circle cx="283" cy="509" r="1.25" fill="#15164F"/>
<circle cx="275.5" cy="514.4" r="1.25" fill="#15164F"/>
<circle cx="271.9" cy="529.4" r="1.25" fill="#15164F"/>
<circle cx="286.8" cy="441.3" r="1.25" fill="#15164F"/>
<path d="M277 497.67L280.2 499.75L277 501.83L273.8 499.75Z" fill="#C663B5" opacity="0.9"/>
<line x1="304.45" y1="494.75" x2="348.75" y2="494.75" stroke="#1F6F78" stroke-width="1"/>
<circle cx="326.5" cy="490.5" r="1.25" fill="#15164F"/>
<circle cx="328" cy="493" r="1.25" fill="#15164F"/>
<circle cx="320" cy="501" r="1.25" fill="#15164F"/>
<circle cx="321" cy="502.5" r="1.25" fill="#15164F"/>
<circle cx="327.3" cy="533.8" r="1.25" fill="#15164F"/>
<circle cx="319.1" cy="397.5" r="1.25" fill="#15164F"/>
<path d="M326.5 485.16L330.1 487.5L326.5 489.84L322.9 487.5Z" fill="#C663B5" opacity="0.9"/>
<line x1="353.25" y1="489" x2="397.55" y2="489" stroke="#1F6F78" stroke-width="1"/>
<line x1="375.5" y1="479.75" x2="375.5" y2="499.4" stroke="#46467e" stroke-width="0.85"/>
<line x1="364" y1="479.75" x2="387" y2="479.75" stroke="#6a6a78" stroke-width="0.85"/>
<line x1="364" y1="499.4" x2="387" y2="499.4" stroke="#6a6a78" stroke-width="0.85"/>
<circle cx="374" cy="479.75" r="1.25" fill="#15164F"/>
<circle cx="373.5" cy="484" r="1.25" fill="#15164F"/>
<circle cx="383.5" cy="485" r="1.25" fill="#15164F"/>
<circle cx="376.5" cy="489" r="1.25" fill="#15164F"/>
<circle cx="369" cy="490" r="1.25" fill="#15164F"/>
<circle cx="370" cy="494" r="1.25" fill="#15164F"/>
<circle cx="371" cy="495" r="1.25" fill="#15164F"/>
<circle cx="371" cy="499.4" r="1.25" fill="#15164F"/>
<circle cx="375" cy="499.4" r="1.25" fill="#15164F"/>
<circle cx="368.6" cy="426" r="1.25" fill="#15164F"/>
<path d="M376 480.42L379.2 482.5L376 484.58L372.8 482.5Z" fill="#C663B5" opacity="0.9"/>
<text transform="translate(10.2,481.7) rotate(-90)" text-anchor="middle" class="ttl">Change from baseline</text>
<text transform="translate(22.4,479.7) rotate(-90)" text-anchor="middle" class="ttl" letter-spacing="0.15">in pPRAS40 (%)</text>
<line x1="53.6" y1="612.5" x2="53.6" y2="779.2" stroke="#222" stroke-width="1.1"/>
<line x1="53.050000000000004" y1="779.2" x2="441" y2="779.2" stroke="#222" stroke-width="1.1"/>
<line x1="50.3" y1="775.55" x2="53.6" y2="775.55" stroke="#222" stroke-width="1"/>
<text x="47.4" y="778.6" text-anchor="end" class="tk">-100</text>
<line x1="50.3" y1="736.25" x2="53.6" y2="736.25" stroke="#222" stroke-width="1"/>
<text x="47.4" y="739.3" text-anchor="end" class="tk">0</text>
<line x1="50.3" y1="696.95" x2="53.6" y2="696.95" stroke="#222" stroke-width="1"/>
<text x="47.4" y="700" text-anchor="end" class="tk">100</text>
<line x1="50.3" y1="657.65" x2="53.6" y2="657.65" stroke="#222" stroke-width="1"/>
<text x="47.4" y="660.7" text-anchor="end" class="tk">200</text>
<line x1="50.3" y1="618.35" x2="53.6" y2="618.35" stroke="#222" stroke-width="1"/>
<text x="47.4" y="621.4" text-anchor="end" class="tk">300</text>
<line x1="83.75" y1="779.2" x2="83.75" y2="782.2" stroke="#222" stroke-width="1"/>
<text x="81.45" y="796.6" text-anchor="middle" class="xl">C0 D1 0h</text>
<line x1="138.3" y1="779.2" x2="138.3" y2="782.2" stroke="#222" stroke-width="1"/>
<text x="138.3" y="796.6" text-anchor="middle" class="xl">C0 D1 1h</text>
<line x1="192.8" y1="779.2" x2="192.8" y2="782.2" stroke="#222" stroke-width="1"/>
<text x="192.8" y="796.6" text-anchor="middle" class="xl">C0 D1 4h</text>
<line x1="247.4" y1="779.2" x2="247.4" y2="782.2" stroke="#222" stroke-width="1"/>
<text x="247.4" y="796.6" text-anchor="middle" class="xl">C0 D1 8h</text>
<line x1="301.9" y1="779.2" x2="301.9" y2="782.2" stroke="#222" stroke-width="1"/>
<text x="301.9" y="796.6" text-anchor="middle" class="xl">C0 D1 10h</text>
<line x1="356.5" y1="779.2" x2="356.5" y2="782.2" stroke="#222" stroke-width="1"/>
<text x="356.5" y="796.6" text-anchor="middle" class="xl">C0 D2 0h</text>
<line x1="411" y1="779.2" x2="411" y2="782.2" stroke="#222" stroke-width="1"/>
<text x="411" y="796.6" text-anchor="middle" class="xl">C0 D3 0h</text>
<text x="170.5" y="814.2" class="ttl">Time postdose (hours)</text>
<rect x="113" y="736.5" width="49" height="19.75" fill="#45ADA8"/>
<rect x="168.5" y="743.75" width="49" height="13.15" fill="#45ADA8"/>
<rect x="223.5" y="741.9" width="49" height="13.1" fill="#45ADA8"/>
<rect x="278" y="737.25" width="49" height="16.25" fill="#45ADA8"/>
<rect x="331.6" y="733.1" width="49" height="7.5" fill="#45ADA8"/>
<rect x="386.1" y="727.75" width="49" height="8.5" fill="#45ADA8"/>
<line x1="53.6" y1="736.25" x2="442.5" y2="736.25" stroke="#2a2a2a" stroke-width="1.2" stroke-dasharray="5.2 5.85"/>
<line x1="73.5" y1="736.25" x2="93.75" y2="736.25" stroke="#2a2a6a" stroke-width="1.6"/>
<circle cx="74.5" cy="736.25" r="1.25" fill="#15164F"/>
<circle cx="77" cy="736.25" r="1.25" fill="#15164F"/>
<circle cx="80" cy="736.25" r="1.25" fill="#15164F"/>
<circle cx="86" cy="736.25" r="1.25" fill="#15164F"/>
<circle cx="89" cy="736.25" r="1.25" fill="#15164F"/>
<circle cx="91" cy="736.25" r="1.25" fill="#15164F"/>
<circle cx="93.75" cy="736.25" r="1.25" fill="#15164F"/>
<path d="M83.1 735.13L84.9 736.3L83.1 737.47L81.3 736.3Z" fill="#C663B5" opacity="0.9"/>
<line x1="113" y1="743.4" x2="162" y2="743.4" stroke="#1F6F78" stroke-width="1"/>
<line x1="138.4" y1="712.9" x2="138.4" y2="762.25" stroke="#46467e" stroke-width="0.85"/>
<line x1="126.9" y1="712.9" x2="149.9" y2="712.9" stroke="#6a6a78" stroke-width="0.85"/>
<line x1="126.9" y1="762.25" x2="149.9" y2="762.25" stroke="#6a6a78" stroke-width="0.85"/>
<circle cx="148.5" cy="712.9" r="1.25" fill="#15164F"/>
<circle cx="138.4" cy="724" r="1.25" fill="#15164F"/>
<circle cx="126" cy="733.5" r="1.25" fill="#15164F"/>
<circle cx="130" cy="736" r="1.25" fill="#15164F"/>
<circle cx="132.5" cy="737.5" r="1.25" fill="#15164F"/>
<circle cx="131.5" cy="742.5" r="1.25" fill="#15164F"/>
<circle cx="136" cy="743.5" r="1.25" fill="#15164F"/>
<circle cx="141.5" cy="741.5" r="1.25" fill="#15164F"/>
<circle cx="142" cy="745" r="1.25" fill="#15164F"/>
<circle cx="146.5" cy="748" r="1.25" fill="#15164F"/>
<circle cx="128" cy="751" r="1.25" fill="#15164F"/>
<circle cx="139.5" cy="756.5" r="1.25" fill="#15164F"/>
<circle cx="144.5" cy="757.5" r="1.25" fill="#15164F"/>
<circle cx="142" cy="761" r="1.25" fill="#15164F"/>
<circle cx="147" cy="761" r="1.25" fill="#15164F"/>
<circle cx="148" cy="763" r="1.25" fill="#15164F"/>
<path d="M137 740.92L140.2 743L137 745.08L133.8 743Z" fill="#C663B5" opacity="0.9"/>
<line x1="168.5" y1="752.25" x2="217.5" y2="752.25" stroke="#1F6F78" stroke-width="1"/>
<line x1="193.5" y1="738.1" x2="193.5" y2="765" stroke="#46467e" stroke-width="0.85"/>
<line x1="182" y1="738.1" x2="205" y2="738.1" stroke="#6a6a78" stroke-width="0.85"/>
<line x1="182" y1="765" x2="205" y2="765" stroke="#6a6a78" stroke-width="0.85"/>
<circle cx="203.5" cy="738.1" r="1.25" fill="#15164F"/>
<circle cx="183" cy="742.6" r="1.25" fill="#15164F"/>
<circle cx="186" cy="741.5" r="1.25" fill="#15164F"/>
<circle cx="188" cy="740.5" r="1.25" fill="#15164F"/>
<circle cx="191" cy="743.5" r="1.25" fill="#15164F"/>
<circle cx="199.5" cy="744.5" r="1.25" fill="#15164F"/>
<circle cx="185" cy="752" r="1.25" fill="#15164F"/>
<circle cx="195" cy="752" r="1.25" fill="#15164F"/>
<circle cx="198.5" cy="751" r="1.25" fill="#15164F"/>
<circle cx="203.5" cy="752" r="1.25" fill="#15164F"/>
<circle cx="184.5" cy="756.6" r="1.25" fill="#15164F"/>
<circle cx="187" cy="756.6" r="1.25" fill="#15164F"/>
<circle cx="192" cy="757.5" r="1.25" fill="#15164F"/>
<circle cx="196" cy="757" r="1.25" fill="#15164F"/>
<circle cx="199" cy="755" r="1.25" fill="#15164F"/>
<circle cx="193.5" cy="762" r="1.25" fill="#15164F"/>
<circle cx="189.5" cy="766" r="1.25" fill="#15164F"/>
<circle cx="193.9" cy="663" r="1.25" fill="#15164F"/>
<path d="M193 743.92L196.2 746L193 748.08L189.8 746Z" fill="#C663B5" opacity="0.9"/>
<line x1="223.5" y1="749" x2="272.5" y2="749" stroke="#1F6F78" stroke-width="1"/>
<line x1="246.9" y1="733.1" x2="246.9" y2="771.25" stroke="#46467e" stroke-width="0.85"/>
<line x1="235.4" y1="733.1" x2="258.4" y2="733.1" stroke="#6a6a78" stroke-width="0.85"/>
<line x1="235.4" y1="771.25" x2="258.4" y2="771.25" stroke="#6a6a78" stroke-width="0.85"/>
<circle cx="246" cy="733" r="1.25" fill="#15164F"/>
<circle cx="245.5" cy="740" r="1.25" fill="#15164F"/>
<circle cx="252" cy="742" r="1.25" fill="#15164F"/>
<circle cx="239" cy="745.5" r="1.25" fill="#15164F"/>
<circle cx="238" cy="749" r="1.25" fill="#15164F"/>
<circle cx="241.5" cy="749" r="1.25" fill="#15164F"/>
<circle cx="244.5" cy="749" r="1.25" fill="#15164F"/>
<circle cx="248" cy="749" r="1.25" fill="#15164F"/>
<circle cx="242" cy="754.5" r="1.25" fill="#15164F"/>
<circle cx="258" cy="754.5" r="1.25" fill="#15164F"/>
<circle cx="237.5" cy="757.5" r="1.25" fill="#15164F"/>
<circle cx="255" cy="758" r="1.25" fill="#15164F"/>
<circle cx="247" cy="771.25" r="1.25" fill="#15164F"/>
<circle cx="239.7" cy="635" r="1.25" fill="#15164F"/>
<path d="M247 740.42L250.2 742.5L247 744.58L243.8 742.5Z" fill="#C663B5" opacity="0.9"/>
<line x1="278" y1="748.1" x2="327" y2="748.1" stroke="#1F6F78" stroke-width="1"/>
<line x1="301.6" y1="724.75" x2="301.6" y2="772.5" stroke="#46467e" stroke-width="0.85"/>
<line x1="290.1" y1="724.75" x2="313.1" y2="724.75" stroke="#6a6a78" stroke-width="0.85"/>
<line x1="290.1" y1="772.5" x2="313.1" y2="772.5" stroke="#6a6a78" stroke-width="0.85"/>
<circle cx="309" cy="724.75" r="1.25" fill="#15164F"/>
<circle cx="303" cy="733.5" r="1.25" fill="#15164F"/>
<circle cx="300.5" cy="736" r="1.25" fill="#15164F"/>
<circle cx="307" cy="740" r="1.25" fill="#15164F"/>
<circle cx="307" cy="744.5" r="1.25" fill="#15164F"/>
<circle cx="292.5" cy="749" r="1.25" fill="#15164F"/>
<circle cx="295.5" cy="748" r="1.25" fill="#15164F"/>
<circle cx="299" cy="747" r="1.25" fill="#15164F"/>
<circle cx="300.5" cy="753" r="1.25" fill="#15164F"/>
<circle cx="293" cy="755" r="1.25" fill="#15164F"/>
<circle cx="299" cy="755.5" r="1.25" fill="#15164F"/>
<circle cx="307" cy="753.5" r="1.25" fill="#15164F"/>
<circle cx="305" cy="762" r="1.25" fill="#15164F"/>
<circle cx="299" cy="772.5" r="1.25" fill="#15164F"/>
<circle cx="301.6" cy="613.5" r="1.25" fill="#15164F"/>
<circle cx="303.2" cy="680.8" r="1.25" fill="#15164F"/>
<path d="M301 733.92L304.2 736L301 738.08L297.8 736Z" fill="#C663B5" opacity="0.9"/>
<line x1="331.6" y1="736.25" x2="380.6" y2="736.25" stroke="#1F6F78" stroke-width="1"/>
<line x1="356.25" y1="728.5" x2="356.25" y2="743.5" stroke="#46467e" stroke-width="0.85"/>
<line x1="344.75" y1="728.5" x2="367.75" y2="728.5" stroke="#6a6a78" stroke-width="0.85"/>
<line x1="344.75" y1="743.5" x2="367.75" y2="743.5" stroke="#6a6a78" stroke-width="0.85"/>
<circle cx="356.5" cy="728.5" r="1.25" fill="#15164F"/>
<circle cx="357" cy="732.5" r="1.25" fill="#15164F"/>
<circle cx="359" cy="733" r="1.25" fill="#15164F"/>
<circle cx="359.5" cy="736" r="1.25" fill="#15164F"/>
<circle cx="368" cy="733.5" r="1.25" fill="#15164F"/>
<circle cx="351" cy="736" r="1.25" fill="#15164F"/>
<circle cx="355" cy="736" r="1.25" fill="#15164F"/>
<circle cx="362" cy="737" r="1.25" fill="#15164F"/>
<circle cx="357" cy="739.5" r="1.25" fill="#15164F"/>
<circle cx="352" cy="742" r="1.25" fill="#15164F"/>
<circle cx="355" cy="743.5" r="1.25" fill="#15164F"/>
<circle cx="351.5" cy="754.5" r="1.25" fill="#15164F"/>
<circle cx="357.5" cy="754.5" r="1.25" fill="#15164F"/>
<circle cx="357.1" cy="621.5" r="1.25" fill="#15164F"/>
<circle cx="355.5" cy="648" r="1.25" fill="#15164F"/>
<path d="M357.5 722.92L360.7 725L357.5 727.08L354.3 725Z" fill="#C663B5" opacity="0.9"/>
<line x1="386.1" y1="730.6" x2="435.1" y2="730.6" stroke="#1F6F78" stroke-width="1"/>
<line x1="411.9" y1="723.75" x2="411.9" y2="740.25" stroke="#46467e" stroke-width="0.85"/>
<line x1="400.4" y1="723.75" x2="423.4" y2="723.75" stroke="#6a6a78" stroke-width="0.85"/>
<line x1="400.4" y1="740.25" x2="423.4" y2="740.25" stroke="#6a6a78" stroke-width="0.85"/>
<circle cx="418.4" cy="710" r="1.25" fill="#15164F"/>
<circle cx="421.5" cy="723.75" r="1.25" fill="#15164F"/>
<circle cx="418" cy="727.5" r="1.25" fill="#15164F"/>
<circle cx="409" cy="730" r="1.25" fill="#15164F"/>
<circle cx="411" cy="730" r="1.25" fill="#15164F"/>
<circle cx="421" cy="731.5" r="1.25" fill="#15164F"/>
<circle cx="402" cy="732" r="1.25" fill="#15164F"/>
<circle cx="404.5" cy="734" r="1.25" fill="#15164F"/>
<circle cx="418" cy="733.5" r="1.25" fill="#15164F"/>
<circle cx="417.5" cy="737" r="1.25" fill="#15164F"/>
<circle cx="416" cy="738" r="1.25" fill="#15164F"/>
<circle cx="415" cy="740" r="1.25" fill="#15164F"/>
<circle cx="401.5" cy="740.5" r="1.25" fill="#15164F"/>
<circle cx="418.5" cy="656" r="1.25" fill="#15164F"/>
<path d="M410 711.92L413.2 714L410 716.08L406.8 714Z" fill="#C663B5" opacity="0.9"/>
<text transform="translate(10.2,698) rotate(-90)" text-anchor="middle" class="ttl">Change from baseline</text>
<text transform="translate(22.4,697.8) rotate(-90)" text-anchor="middle" class="ttl" letter-spacing="0.3">in pGSK3β (%)</text>
</svg></body></html>
